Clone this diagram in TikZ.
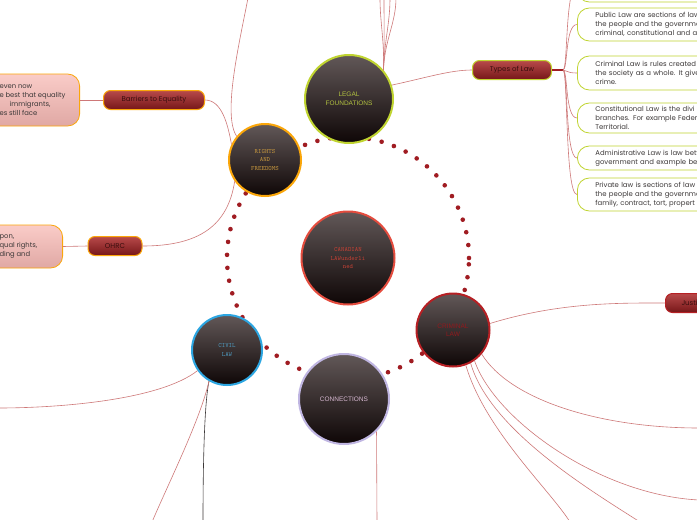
\documentclass[tikz,border=0pt]{standalone}
\usepackage{fontspec}
\setmainfont{Poppins}
\newfontfamily\plainsans{Liberation Sans}
\usepackage{tikz}
\usetikzlibrary{positioning,calc}
\definecolor{circtop}{RGB}{98,88,88}
\definecolor{circbot}{RGB}{14,6,6}
\definecolor{canred}{RGB}{228,76,62}
\definecolor{lime}{RGB}{192,212,48}
\definecolor{amber}{RGB}{250,166,10}
\definecolor{crim}{RGB}{182,32,36}
\definecolor{sky}{RGB}{44,166,226}
\definecolor{lav}{RGB}{192,182,226}
\definecolor{wire}{RGB}{206,120,120}
\definecolor{dotred}{RGB}{160,28,34}
\definecolor{boxtop}{RGB}{184,74,74}
\definecolor{boxbot}{RGB}{118,22,24}
\definecolor{boxtext}{RGB}{58,14,14}
\definecolor{pinktop}{RGB}{250,204,200}
\definecolor{pinkbot}{RGB}{224,168,164}
\definecolor{notetext}{RGB}{60,56,56}

\begin{document}
\begin{tikzpicture}[x=1pt, y=-1pt,
        bubble/.style={circle, draw, line width=2pt, top color=circtop, bottom color=circbot, align=center,
                       inner sep=0pt, font=\fontsize{6.5}{8.5}\selectfont},
        redbox/.style={draw, line width=1pt, rounded corners=7pt, top color=boxtop, bottom color=boxbot,
                       text=boxtext, minimum height=19pt, inner xsep=8pt, font=\fontsize{7}{9}\selectfont},
        notebox/.style={draw=lime, line width=0.8pt, fill=white, rounded corners=12pt, align=left, anchor=west,
                        text width=200pt, inner xsep=18pt, text=notetext, font=\fontsize{6.9}{9}\selectfont},
        pinkbox/.style={draw=amber, line width=0.8pt, top color=pinktop, bottom color=pinkbot, rounded corners=12pt,
                        anchor=east, inner xsep=8pt, text=notetext, font=\fontsize{6.8}{9}\selectfont},
        wire/.style={draw=wire, line width=0.6pt},
        dotring/.style={draw=dotred, line width=4.6pt, line cap=round, dash pattern=on 0pt off 13pt}
    ]
    \path[fill=white, use as bounding box] (0,0) rectangle (697,520);
    \clip (0,0) rectangle (697,520);

    \coordinate (mid) at (348,258);
    \draw[dotring] (mid) circle[radius=121pt];

    \node[bubble, draw=canred, minimum size=93pt, text=canred!85!black] (can) at (mid) {\ttfamily CANADIAN\\\ttfamily LAWunderli\\\ttfamily ned};
    \node[bubble, draw=lime, minimum size=88pt, text=lime!80!gray] (legal) at (349,99) {\plainsans LEGAL\\\plainsans FOUNDATIONS};
    \node[bubble, draw=amber, minimum size=72pt, text=amber!55!gray] (rights) at (265,160) {\ttfamily RIGHTS\\\ttfamily AND\\\ttfamily FREEDOMS};
    \node[bubble, draw=crim, minimum size=73pt, text=crim!80!black] (crime) at (453,330) {\plainsans CRIMINAL\\\plainsans LAW};
    \node[bubble, draw=sky, minimum size=70pt, text=sky!60!gray] (civil) at (227,350) {\ttfamily CIVIL\\\ttfamily LAW};
    \node[bubble, draw=lav, minimum size=90pt, text=lav!60!pink] (conn) at (344,399) {\plainsans CONNECTIONS};

    \node[redbox, draw=lime, minimum width=79pt] (types) at (512,70) {Types of Law};
    \node[redbox, draw=amber, minimum width=101pt] (barriers) at (154,100) {Barriers to Equality};
    \node[redbox, draw=amber, minimum width=54pt] (ohrc) at (115,246) {OHRC};
    \node[redbox, draw=crim, anchor=west, inner xsep=16pt] (justice) at (665,303) {Justice};

    \node[notebox, minimum height=32pt] (na) at (577,-14) {};
    \node[notebox, minimum height=33pt] (nb) at (577,24.5) {Public Law are sections of law\\the people and the government\\criminal, constitutional and a};
    \node[notebox, minimum height=34pt] (nc) at (577,73) {Criminal Law is rules created\\the society as a whole. It give\\crime.};
    \node[notebox, minimum height=30pt] (nd) at (577,118) {Constitutional Law is the divi\\branches. For example Federal\\Territorial.};
    \node[notebox, minimum height=24pt] (ne) at (577,158) {Administrative Law is law betw\\government and example bein};
    \node[notebox, minimum height=33pt] (nf) at (577,194.5) {Private law is sections of law\\the people and the governme\\family, contract, tort, propert};

    \node[pinkbox, minimum height=52pt] (pa) at (80,100) {\hspace*{50pt}\parbox{72pt}{\raggedright even now\\e best that equality\\\hspace*{10pt}immigrants,\\es still face}};
    \node[pinkbox, minimum height=43pt] (pb) at (63,246.5) {\hspace*{50pt}\parbox{55pt}{\raggedright pon,\\qual rights,\\ding and}};

    \coordinate (fork) at (563,70);
    \draw[wire] (legal.18) .. controls (425,78) and (450,70) .. (types.west);
    \draw[draw=dotred, line width=1.2pt] (types.east) -- (fork);
    \foreach \b in {na,nb,nc,nd,ne,nf}
        \draw[wire] (fork) .. controls (568,70) and ($(\b.west)+(-12,0)$) .. (\b.west);

    \coordinate (t1) at (380,-2);
    \coordinate (t2) at (384,-2);
    \coordinate (t3) at (390,-2);
    \coordinate (t4) at (396,-2);
    \foreach \e in {t1,t2,t3,t4}
        \draw[wire] (legal.40) .. controls ($(legal.40)+(1,-30)$) and ($(\e)+(0,25)$) .. (\e);

    \coordinate (r1) at (248,-2);
    \draw[wire] (rights.140) .. controls (222,115) and (240,40) .. (r1);
    \draw[wire] (barriers.east) .. controls (222,100) and (228,125) .. (rights.155);
    \draw[wire] (barriers.west) -- (pa.east);
    \draw[wire] (ohrc.east) .. controls (200,246) and (228,225) .. (rights.215);
    \draw[wire] (ohrc.west) -- (pb.east);

    \draw[wire] (crime.10) .. controls (560,302) and (620,303) .. (justice.west);
    \coordinate (c1) at (699,428);
    \coordinate (c2) at (699,500);
    \coordinate (c3) at (640,522);
    \coordinate (c4) at (570,522);
    \draw[wire] (crime.-40) .. controls (510,400) and (600,428) .. (c1);
    \draw[wire] (crime.-55) .. controls (495,420) and (600,495) .. (c2);
    \draw[wire] (crime.-62) .. controls (490,430) and (590,490) .. (c3);
    \draw[wire] (crime.-70) .. controls (485,430) and (550,490) .. (c4);

    \coordinate (v1) at (-2,408);
    \coordinate (v2) at (203,522);
    \coordinate (v3) at (152,522);
    \draw[wire] (civil.215) .. controls (160,400) and (60,408) .. (v1);
    \draw[draw=notetext, line width=0.6pt] (civil.240) .. controls (205,400) and (203,450) .. (v2);
    \draw[wire] (civil.240) .. controls (200,420) and (170,480) .. (v3);

    \coordinate (k1) at (377,522);
    \draw[wire] (conn.-45) -- (k1);
\end{tikzpicture}
\end{document}
